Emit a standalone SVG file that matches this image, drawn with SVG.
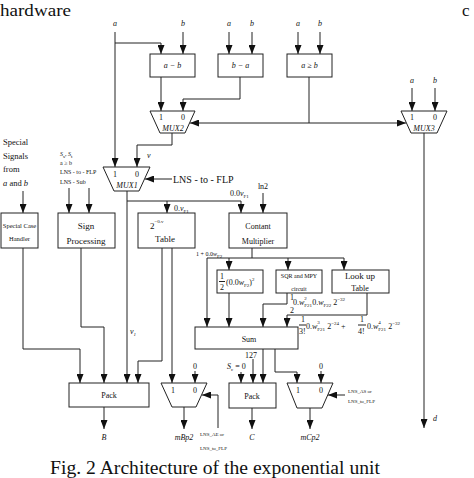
<svg xmlns="http://www.w3.org/2000/svg" width="474" height="478" viewBox="0 0 474 478">
<style>
.ln{fill:none;stroke:#222;stroke-width:1}
.ar{marker-end:url(#ah)}
.bx{fill:#fff;stroke:#222;stroke-width:1}
text{font-family:"Liberation Serif",serif;fill:#111}
.i{font-style:italic}
.c{text-anchor:middle}
.s5{font-size:5px}
.s6{font-size:6px}
.s8{font-size:8px}
.s9{font-size:9px}
</style>
<defs>
<marker id="ah" viewBox="0 0 9 7" refX="9" refY="3.5" markerWidth="9" markerHeight="7" markerUnits="userSpaceOnUse" orient="auto"><path d="M0,0 L9,3.5 L0,7 z" fill="#111"/></marker>
</defs>
<rect width="474" height="478" fill="#fff"/>
<text x="0" y="16" style="font-size:17px" textLength="71" lengthAdjust="spacingAndGlyphs">hardware</text>
<text x="462" y="16" style="font-size:17px">c</text>
<text x="50" y="474" style="font-size:18px" textLength="330" lengthAdjust="spacingAndGlyphs">Fig. 2 Architecture of the exponential unit</text>

<g id="connectors">
<path class="ln ar" d="M115,32 V167"/>
<path class="ln ar" d="M115,43 H161 V54"/>
<path class="ln ar" d="M183,32 V54"/>
<path class="ln ar" d="M229,32 V54"/>
<path class="ln ar" d="M252,32 V54"/>
<path class="ln ar" d="M298,32 V54"/>
<path class="ln ar" d="M320,32 V54"/>
<path class="ln ar" d="M161,77 V111"/>
<path class="ln ar" d="M240,77 V99 H183 V111"/>
<path class="ln ar" d="M309,77 V123 H190"/>
<path class="ln ar" d="M309,123 H406"/>
<path class="ln ar" d="M412,88 V111"/>
<path class="ln ar" d="M435,88 V111"/>
<path class="ln ar" d="M424,133 V428"/>
<path class="ln ar" d="M172,133 V145 H137 V167"/>
<path class="ln ar" d="M172,179 H145"/>
<path class="ln ar" d="M127,191 V383"/>
<path class="ln ar" d="M127,201 H241 V213"/>
<path class="ln ar" d="M167,201 V213"/>
<path class="ln ar" d="M263,193 V213"/>
<path class="ln ar" d="M23,191 V213"/>
<path class="ln ar" d="M69,188 V213"/>
<path class="ln ar" d="M89,188 V213"/>
<path class="ln ar" d="M23,248 V349 H80 V383"/>
<path class="ln ar" d="M81,248 V327 H104 V383"/>
<path class="ln ar" d="M162,248 V361 H138 V383"/>
<path class="ln ar" d="M172,248 V383"/>
<path class="ln ar" d="M195,371 V383"/>
<path class="ln ar" d="M218,428 V395 H202"/>
<path class="ln ar" d="M184,407 V429"/>
<path class="ln ar" d="M104,407 V429"/>
<path class="ln" d="M252,248 V258 M207,258 H344"/>
<path class="ln ar" d="M229,258 V270"/>
<path class="ln ar" d="M288,258 V270"/>
<path class="ln ar" d="M344,258 V270"/>
<path class="ln ar" d="M207,258 V327"/>
<path class="ln ar" d="M229,293 V327"/>
<path class="ln ar" d="M287,293 V304 H263 V327"/>
<path class="ln ar" d="M367,293 V315 H287 V327"/>
<path class="ln ar" d="M253,359 V383"/>
<path class="ln ar" d="M263,349 V383"/>
<path class="ln ar" d="M275,349 V372 H297 V383"/>
<path class="ln ar" d="M241,372 V383"/>
<path class="ln ar" d="M321,371 V383"/>
<path class="ln ar" d="M345,395 H328"/>
<path class="ln ar" d="M310,408 V429"/>
<path class="ln ar" d="M252,408 V429"/>
</g>

<g id="labels">
<text class="i s8 c" x="115" y="26">a</text>
<text class="i s8 c" x="183" y="26">b</text>
<text class="i s8 c" x="229" y="26">a</text>
<text class="i s8 c" x="252" y="26">b</text>
<text class="i s8 c" x="298" y="26">a</text>
<text class="i s8 c" x="320" y="26">b</text>
<text class="i s8 c" x="412" y="83">a</text>
<text class="i s8 c" x="435" y="83">b</text>
<text class="i s8" x="147" y="158">v</text>
<text x="173" y="183" style="font-size:10px">LNS - to - FLP</text>
<text x="3" y="145" style="font-size:8.5px">Special</text>
<text x="3" y="159" style="font-size:8.5px">Signals</text>
<text x="3" y="172" style="font-size:8.5px">from</text>
<text x="3" y="186" style="font-size:8.5px"><tspan class="i">a</tspan> and <tspan class="i">b</tspan></text>
<text class="s6" x="60" y="156"><tspan class="i">S</tspan><tspan class="s5" dy="1.5">s</tspan><tspan dy="-1.5">, </tspan><tspan class="i">S</tspan><tspan class="s5" dy="1.5">t</tspan></text>
<text class="s6" x="60" y="165">a ≥ b</text>
<text class="s6" x="60" y="174">LNS - to - FLP</text>
<text class="s6" x="60" y="184">LNS - Sub</text>
<text class="s8" x="230" y="196">0.0<tspan class="i">v</tspan><tspan class="s5" dy="1.5">F1</tspan></text>
<text class="s8" x="174" y="211">0.<tspan class="i">v</tspan><tspan class="s5" dy="1.5">F1</tspan></text>
<text class="s8 c" x="263" y="189">ln2</text>
<text class="s6" x="196" y="256">1 + 0.0<tspan class="i">w</tspan><tspan class="s5" dy="1.5">F2</tspan></text>
<text class="i s8" x="130" y="334">v<tspan class="s5" dy="1.5">1</tspan></text>
<text class="s8" x="290" y="300">1</text>
<text class="s8" x="290" y="313">2</text>
<text class="s8" x="293" y="305">0.<tspan class="i">w</tspan><tspan class="s5" dy="-5">2</tspan><tspan class="s5" dx="-2.5" dy="6.5">F21</tspan><tspan dy="-1.5">0.</tspan><tspan class="i">w</tspan><tspan class="s5" dy="1.5">F22</tspan><tspan dy="-1.5"> 2</tspan><tspan class="s5" dy="-4">−32</tspan></text>
<path class="ln" d="M299,325 H306 M358,325 H366"/>
<text class="s8" x="301" y="322">1</text>
<text class="s8" x="299" y="334">3!</text>
<text class="s8" x="306" y="329">0.<tspan class="i">w</tspan><tspan class="s5" dy="-5">3</tspan><tspan class="s5" dx="-2.5" dy="6.5">F21</tspan><tspan dy="-1.5"> 2</tspan><tspan class="s5" dy="-4">−24</tspan><tspan dy="4"> +</tspan></text>
<text class="s8" x="360" y="322">1</text>
<text class="s8" x="358" y="334">4!</text>
<text class="s8" x="367" y="329">0.<tspan class="i">w</tspan><tspan class="s5" dy="-5">4</tspan><tspan class="s5" dx="-2.5" dy="6.5">F21</tspan><tspan dy="-1.5"> 2</tspan><tspan class="s5" dy="-4">−32</tspan></text>
<text class="s8 c" x="251" y="358">127</text>
<text class="s8" x="227" y="369"><tspan class="i">S</tspan><tspan class="s5" dy="1.5">c</tspan><tspan dy="-1.5"> = 0</tspan></text>
<text class="s8 c" x="195" y="369">0</text>
<text class="s8 c" x="321" y="369">0</text>
<text class="s5" x="200" y="436">LNS_AE  or</text>
<text class="s5" x="200" y="450">LNS_to_FLP</text>
<text class="s5" x="348" y="393">LNS_AS or</text>
<text class="s5" x="348" y="403">LNS_to_FLP</text>
<text class="i s8 c" x="104" y="440">B</text>
<text class="i s8 c" x="184" y="440">mBp2</text>
<text class="i s8 c" x="252" y="440">C</text>
<text class="i s8 c" x="310" y="440">mCp2</text>
<text class="i s8" x="433" y="421">d</text>
</g>

<g id="box-amb"><rect class="bx" x="150" y="54" width="45" height="23"/><text class="i s8 c" x="172.5" y="68">a − b</text></g>
<g id="box-bma"><rect class="bx" x="218" y="54" width="45" height="23"/><text class="i s8 c" x="240.5" y="68">b − a</text></g>
<g id="box-ageb"><rect class="bx" x="287" y="54" width="45" height="23"/><text class="i s8 c" x="309.5" y="68">a ≥ b</text></g>
<g id="mux2"><polygon class="bx" points="150,111 195,111 185,133 160,133"/><text class="s8 c" x="161" y="120">1</text><text class="s8 c" x="183" y="120">0</text><text class="i s8 c" x="173" y="131">MUX2</text></g>
<g id="mux3"><polygon class="bx" points="401,111 447,111 437,133 411,133"/><text class="s8 c" x="412" y="120">1</text><text class="s8 c" x="435" y="120">0</text><text class="i s8 c" x="424" y="131">MUX3</text></g>
<g id="mux1"><polygon class="bx" points="103,167 150,167 139,191 114,191"/><text class="s8 c" x="115" y="177">1</text><text class="s8 c" x="137" y="177">0</text><text class="i s8 c" x="127" y="188">MUX1</text></g>
<g id="special"><rect class="bx" x="1" y="213" width="37" height="35"/><text class="c" x="19.5" y="228" style="font-size:6.5px">Special Case</text><text class="c" x="19.5" y="241" style="font-size:6.5px">Handler</text></g>
<g id="sign"><rect class="bx" x="58" y="213" width="57" height="35"/><text class="s9 c" x="86" y="229">Sign</text><text class="s9 c" x="86" y="244">Processing</text></g>
<g id="table"><rect class="bx" x="138" y="213" width="57" height="35"/><text class="s9" x="150" y="229">2<tspan class="s5" dy="-6">−0.v</tspan></text><text class="s9 c" x="165" y="242">Table</text></g>
<g id="cmult"><rect class="bx" x="229" y="213" width="58" height="35"/><text class="s8 c" x="258" y="229">Contant</text><text class="s8 c" x="258" y="244">Multiplier</text></g>
<g id="half"><rect class="bx" x="217" y="270" width="46" height="23"/><text class="s8" x="220" y="279">1</text><path class="ln" d="M219,281.5 H225"/><text class="s8" x="220" y="290">2</text><text class="s8" x="226" y="285">(0.0<tspan class="i">w</tspan><tspan class="s5" dy="1.5">F2</tspan><tspan dy="-1.5">)</tspan><tspan class="s5" dy="-4">2</tspan></text></g>
<g id="sqr"><rect class="bx" x="276" y="270" width="46" height="23"/><text class="s6 c" x="299" y="278">SQR and MPY</text><text class="s6 c" x="299" y="291">circuit</text></g>
<g id="lut"><rect class="bx" x="332" y="270" width="57" height="23"/><text class="s9 c" x="360" y="279">Look up</text><text class="s8 c" x="360" y="291">Table</text></g>
<g id="sum"><rect class="bx" x="195" y="327" width="103" height="22"/><text class="s8 c" x="249" y="342">Sum</text></g>
<g id="packB"><rect class="bx" x="69" y="383" width="80" height="24"/><text class="s8 c" x="109" y="398">Pack</text></g>
<g id="muxB"><polygon class="bx" points="161,383 207,383 196,407 172,407"/><text class="s8 c" x="173" y="393">1</text><text class="s8 c" x="195" y="393">0</text></g>
<g id="packC"><rect class="bx" x="229" y="383" width="47" height="25"/><text class="s8 c" x="252" y="399">Pack</text></g>
<g id="muxC"><polygon class="bx" points="287,383 333,383 322,408 297,408"/><text class="s8 c" x="298" y="393">1</text><text class="s8 c" x="321" y="393">0</text></g>
</svg>
